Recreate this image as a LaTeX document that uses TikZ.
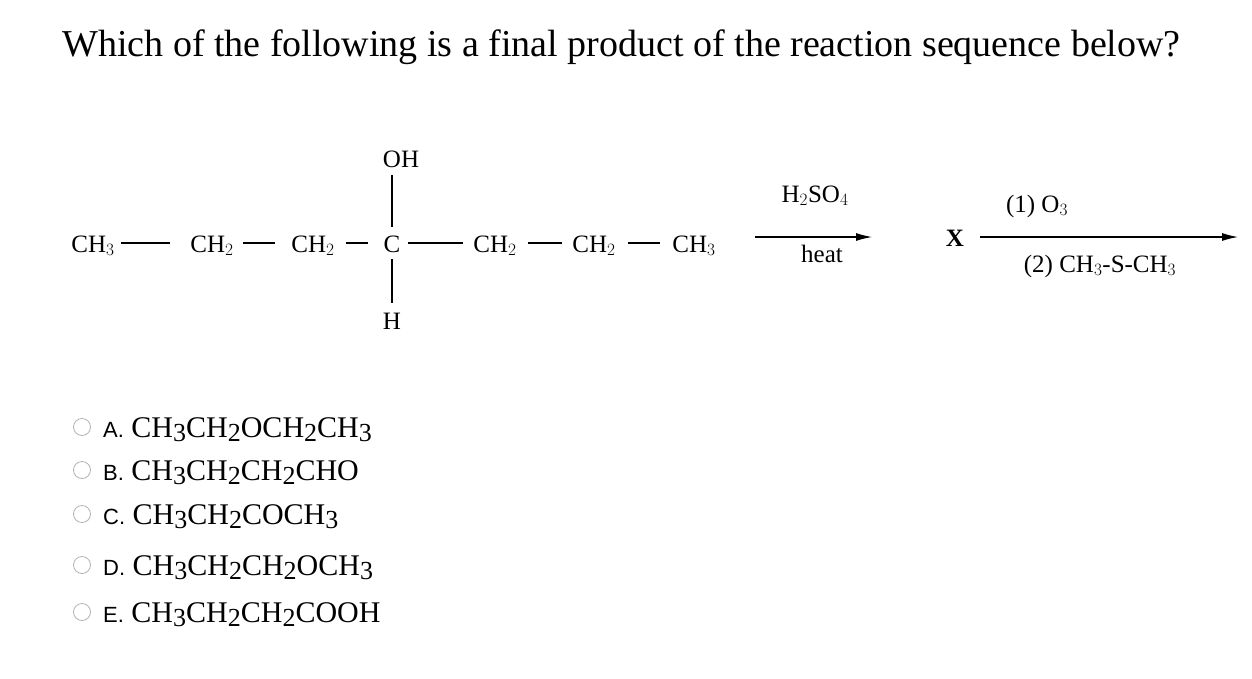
\documentclass[tikz,border=0pt]{standalone}
\usepackage{fontspec}
\usetikzlibrary{arrows.meta}
\setmainfont{Liberation Serif}
\setsansfont{Liberation Sans}
\newcommand{\mysb}[1]{\raisebox{-0.3ex}{\fontsize{26}{28}\selectfont #1}}
\begin{document}
\begin{tikzpicture}[x=1pt,y=-1pt,
  mol/.style={font=\fontsize{25}{28}\selectfont, inner sep=0pt, anchor=base},
  bond/.style={line width=1.3pt},
  opt/.style={font=\fontsize{30}{34}\selectfont, inner sep=0pt, anchor=base west},
  rad/.style={draw=gray!60, line width=0.8pt, circle, minimum size=17pt, inner sep=0pt},
  arr/.style={line width=1.1pt, -{Latex[length=16pt,width=8pt]}}]
\useasboundingbox (0,0) rectangle (1252,678);
\node[font=\fontsize{38}{42}\selectfont, inner sep=0pt, anchor=base west] (t) at (62,56) {Which of the following is a final product of the reaction sequence below?};
% chain
\node[mol] (c1) at (93,252) {CH$_3$};
\node[mol] (c2) at (212,252) {CH$_2$};
\node[mol] (c3) at (313,252) {CH$_2$};
\node[mol] (c4) at (392,252) {C};
\node[mol] (c5) at (495,252) {CH$_2$};
\node[mol] (c6) at (594,252) {CH$_2$};
\node[mol] (c7) at (694,252) {CH$_3$};
\node[mol] (oh) at (401,167) {OH};
\node[mol] (h) at (392,329) {H};
\draw[bond] (121,243) -- (170,243);
\draw[bond] (243,243) -- (275,243);
\draw[bond] (346,243) -- (368,243);
\draw[bond] (408,243) -- (463,243);
\draw[bond] (528,243) -- (562,243);
\draw[bond] (628,243) -- (660,243);
\draw[bond] (392,175) -- (392,227);
\draw[bond] (392,259) -- (392,303);
% arrows
\coordinate (a1s) at (755,237);
\coordinate (a1e) at (872,237);
\draw[arr] (a1s) -- (a1e);
\node[mol] (h2so4) at (815,202) {H$_2$SO$_4$};
\node[mol] (heat) at (822,262) {heat};
\node[mol, font=\bfseries\fontsize{25}{28}\selectfont] (x) at (955,246) {X};
\coordinate (a2s) at (980,237);
\coordinate (a2e) at (1238,237);
\draw[arr] (a2s) -- (a2e);
\node[mol] (o3) at (1037,212) {(1) O$_3$};
\node[mol] (dms) at (1100,272) {(2) CH$_3$-S-CH$_3$};
% options
\foreach \y [count=\i] in {437,480,524,575,622}{
  \node[rad] (r\i) at (82,\y-10) {};
}
\node[opt] (oa) at (103,437) {{\sffamily\fontsize{22}{24}\selectfont A.} CH\mysb{3}CH\mysb{2}OCH\mysb{2}CH\mysb{3}};
\node[opt] (ob) at (103,480) {{\sffamily\fontsize{22}{24}\selectfont B.} CH\mysb{3}CH\mysb{2}CH\mysb{2}CHO};
\node[opt] (oc) at (103,524) {{\sffamily\fontsize{22}{24}\selectfont C.} CH\mysb{3}CH\mysb{2}COCH\mysb{3}};
\node[opt] (od) at (103,575) {{\sffamily\fontsize{22}{24}\selectfont D.} CH\mysb{3}CH\mysb{2}CH\mysb{2}OCH\mysb{3}};
\node[opt] (oe) at (103,622) {{\sffamily\fontsize{22}{24}\selectfont E.} CH\mysb{3}CH\mysb{2}CH\mysb{2}COOH};
\end{tikzpicture}
\end{document}
